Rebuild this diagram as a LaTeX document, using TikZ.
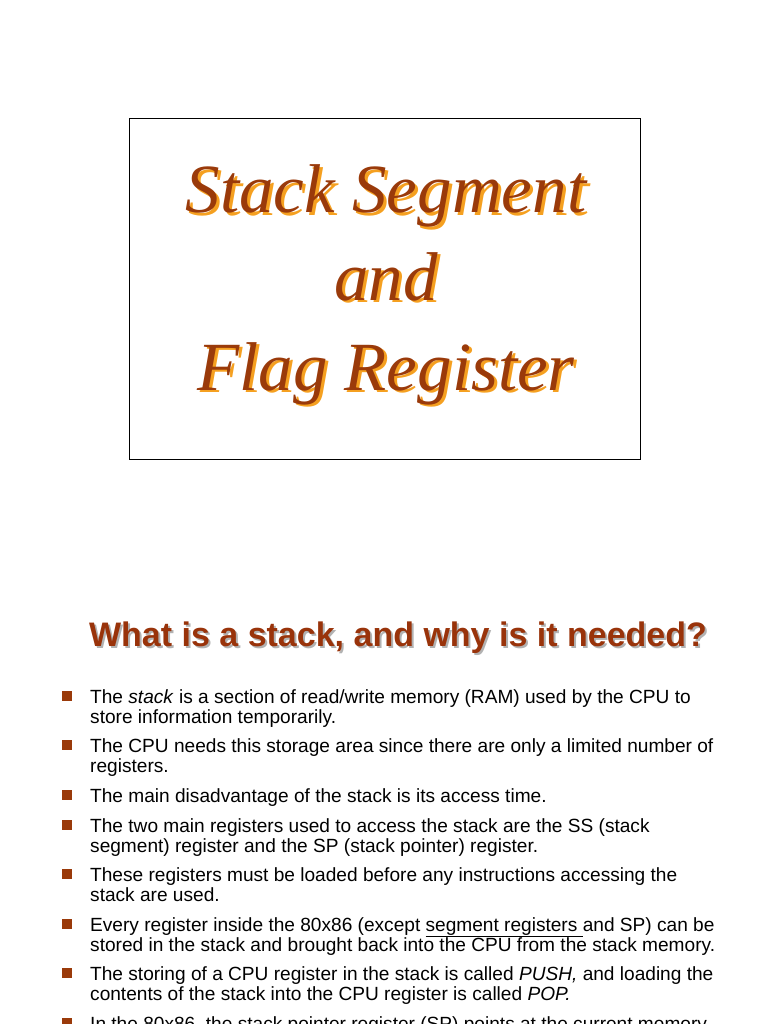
\documentclass[tikz,border=0pt]{standalone}
\usepackage{fontspec}
\setmainfont{Liberation Sans}
\newfontfamily\ttlfont{Liberation Serif}
\begin{document}
\begin{tikzpicture}[x=1pt,y=-1pt]
\definecolor{brn}{HTML}{9A3A0A}
\definecolor{org}{HTML}{F5A020}
\definecolor{hd}{HTML}{99330A}
\tikzset{ln/.style={anchor=base west,inner sep=0,font=\fontsize{19.1}{20}\selectfont},
 bul/.style={fill=brn,minimum size=10pt,inner sep=0},
 ttl/.style={font=\ttlfont\itshape\fontsize{69}{70}\selectfont,inner sep=0,anchor=base}}
\path[use as bounding box] (0,0) rectangle (768,1024);
\clip (0,0) rectangle (768,1024);
\node[draw,line width=0.8pt,minimum width=511pt,minimum height=341pt,anchor=north west] (box) at (129,118) {};
\foreach \t/\y [count=\i] in {Stack Segment/213,and/300,Flag Register/390}{
 \node[ttl,text=org] (s\i) at (389,\y+2) {\t};
 \node[ttl,text=brn] (t\i) at (386,\y) {\t};}
\node[anchor=base,inner sep=0,font=\bfseries\fontsize{34}{36}\selectfont,text=gray!60] (hs) at (400,648) {What is a stack, and why is it needed?};
\node[anchor=base,inner sep=0,font=\bfseries\fontsize{34}{36}\selectfont,text=hd] (h) at (398,646) {What is a stack, and why is it needed?};
\foreach \y in {697,746,796,826,875,925,974,1024} \node[bul] at (67,\y-1) {};
\node[ln] (l1) at (90,703) {The \textit{stack} is a section of read/write memory (RAM) used by the CPU to};
\node[ln] (l2) at (90,723) {store information temporarily.};
\node[ln] (l3) at (90,752) {The CPU needs this storage area since there are only a limited number of};
\node[ln] (l4) at (90,772) {registers.};
\node[ln] (l5) at (90,802) {The main disadvantage of the stack is its access time.};
\node[ln] (l6) at (90,832) {The two main registers used to access the stack are the SS (stack};
\node[ln] (l7) at (90,852) {segment) register and the SP (stack pointer) register.};
\node[ln] (l8) at (90,881) {These registers must be loaded before any instructions accessing the};
\node[ln] (l9) at (90,901) {stack are used.};
\node[ln] (l10) at (90,931) {Every register inside the 80x86 (except \underline{segment registers }and SP) can be};
\node[ln] (l11) at (90,951) {stored in the stack and brought back into the CPU from the stack memory.};
\node[ln] (l12) at (90,980) {The storing of a CPU register in the stack is called \textit{PUSH,} and loading the};
\node[ln] (l13) at (90,1000) {contents of the stack into the CPU register is called \textit{POP.}};
\node[ln] (l14) at (90,1030) {In the 80x86, the stack pointer register (SP) points at the current memory};
\end{tikzpicture}
\end{document}
